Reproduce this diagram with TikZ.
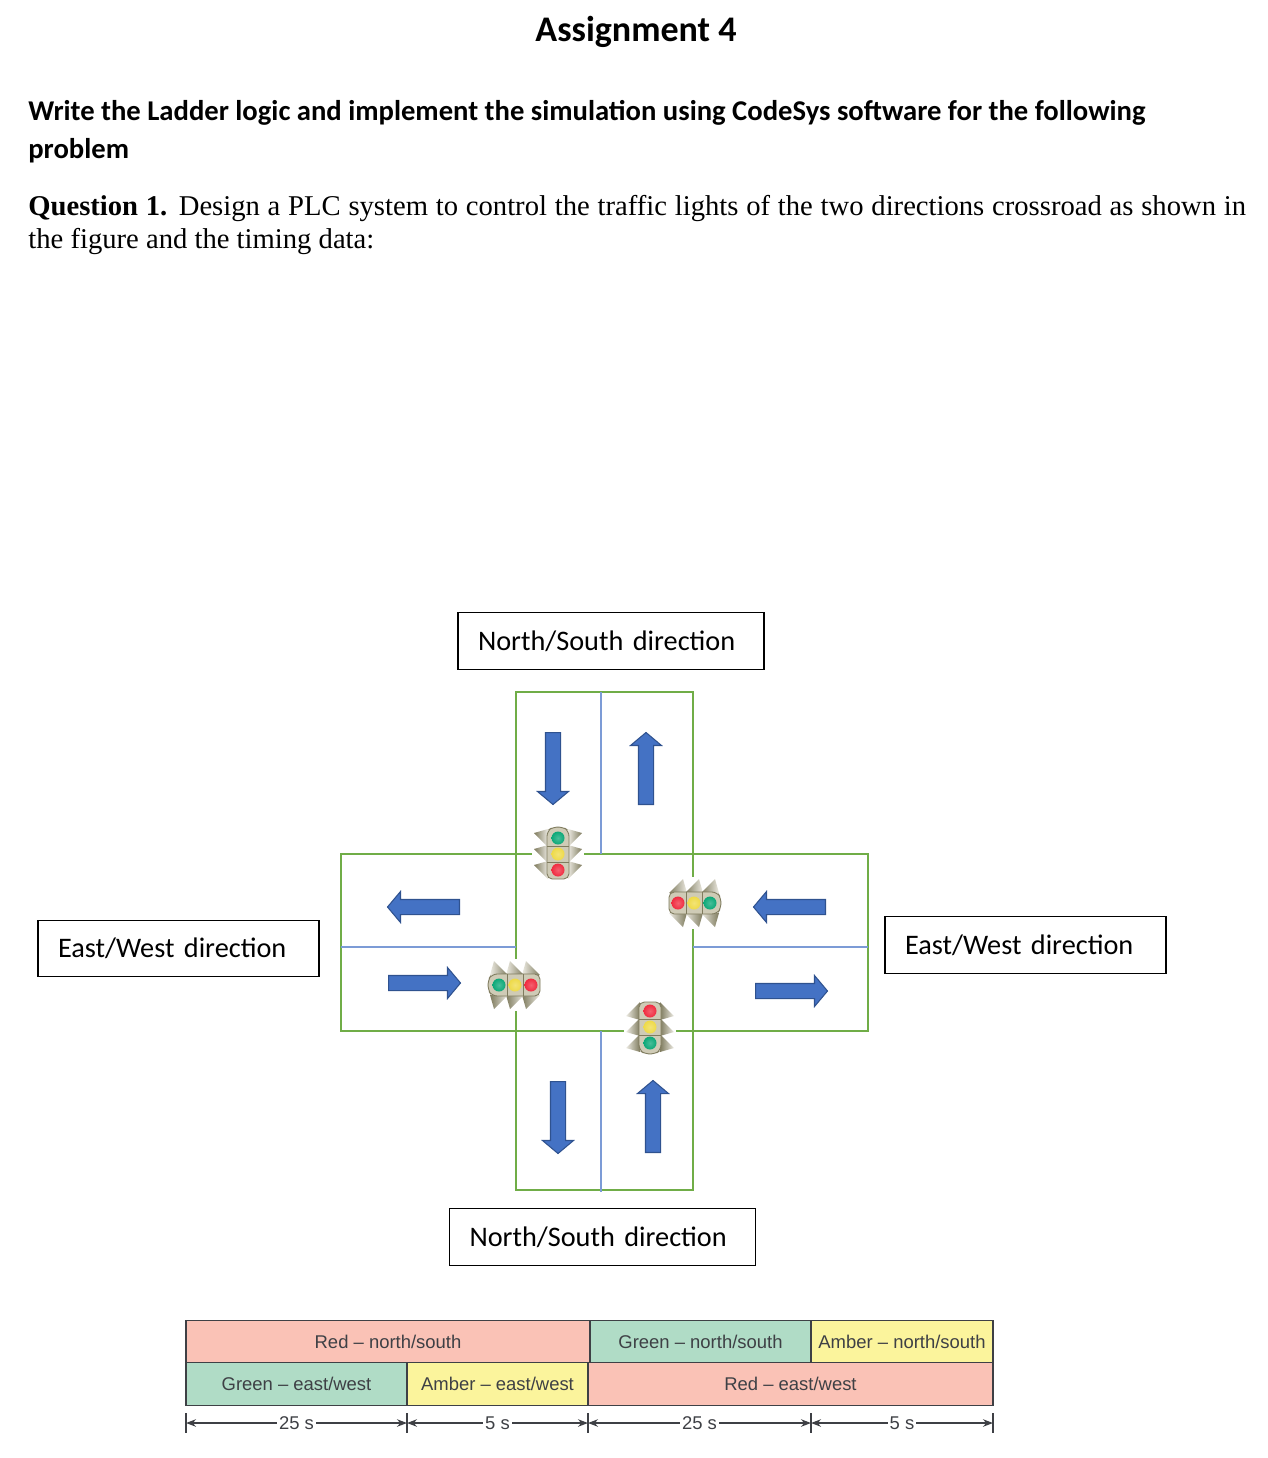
\documentclass[tikz,border=0pt]{standalone}
\usepackage{fontspec}
\setmainfont{Carlito}
\newfontfamily\timesfont{Liberation Serif}
\newfontfamily\chartfont[Ligatures=TeX]{Liberation Sans}
\usetikzlibrary{positioning,arrows.meta,shapes.arrows}
\definecolor{roadgreen}{HTML}{70AD47}
\definecolor{lanec}{HTML}{7C9BD6}
\definecolor{arrowfill}{HTML}{4472C4}
\definecolor{arrowedge}{HTML}{2F528F}
\definecolor{redcell}{HTML}{FAC2B6}
\definecolor{greencell}{HTML}{B0DCC6}
\definecolor{ambercell}{HTML}{FBF49C}
\definecolor{inkc}{HTML}{3E4045}
\definecolor{signalbody}{HTML}{CFCBB6}
\definecolor{signaledge}{HTML}{7F7B5E}
\definecolor{lampred}{HTML}{F02C40}
\definecolor{lampamber}{HTML}{EEDA48}
\definecolor{lampgreen}{HTML}{0CA878}

\begin{document}
\begin{tikzpicture}[x=0.02cm, y=-0.02cm,
        road/.style={draw=roadgreen, line width=1.35pt},
        lane/.style={draw=lanec, line width=0.6pt},
        dirbox/.style={draw=black, line width=0.8pt, font=\fontsize{16.1}{18}\selectfont, align=left, text width=4.82cm, inner xsep=0.4cm, minimum height=1.13cm, inner ysep=0pt},
        flow/.style={single arrow, anchor=tail, draw=arrowedge, fill=arrowfill, line width=0.6pt, minimum height=1.44cm, single arrow head extend=0.16cm, single arrow tip angle=100, inner sep=0.14cm},
        cell/.style={draw=inkc, line width=0.8pt, text=inkc, font=\chartfont\fontsize{10.5}{12}\selectfont, minimum height=0.85cm, inner sep=0pt},
        span/.style={{Stealth[length=2mm]}-{Stealth[length=2mm]}, draw=inkc, line width=0.7pt},
        tick/.style={draw=inkc, line width=0.7pt},
        spanlbl/.style={fill=white, inner sep=1pt, text=inkc, font=\chartfont\fontsize{10.5}{12}\selectfont},
        signal/.pic={
          \fill[white] (-26,-27) rectangle (26,27);
          \foreach \vy in {-26,-10,6} {
            \path[left color=signalbody!40, right color=signaledge] (-10,\vy) -- (-24,\vy+14) -- (-10,\vy+18) -- cycle;
            \path[right color=signalbody!40, left color=signaledge] (10,\vy) -- (24,\vy+14) -- (10,\vy+18) -- cycle;
          }
          \draw[signaledge, fill=signalbody, line width=0.5pt, rounded corners=3pt] (-11,-26) -- (11,-26) -- (11,22) -- (5,26) -- (-5,26) -- (-11,22) -- cycle;
          \draw[signaledge, line width=0.3pt] (-11,-9) -- (11,-9) (-11,7) -- (11,7);
          \shade[inner color=lampred!75!white, outer color=lampred] (0,-17) circle (6.5);
          \shade[inner color=lampamber!75!white, outer color=lampamber] (0,-1) circle (6.5);
          \shade[inner color=lampgreen!75!white, outer color=lampgreen] (0,15) circle (6.5);
        }]
      \useasboundingbox (0,0) rectangle (1268,1458);
      % heading
      \node[font=\bfseries\fontsize{20.5}{24}\selectfont] (title) at (636,32) {Assignment 4};
      \node[anchor=north west, inner sep=0pt, align=left, font=\bfseries\fontsize{16.3}{21.5}\selectfont] (task) at (28,100) {Write the Ladder logic and implement the simulation using CodeSys software for the following\\ problem};
      \node[anchor=north west, inner sep=0pt, text width=24.36cm, align=justify, font=\timesfont\fontsize{16.3}{18.8}\selectfont] (question) at (28,195) {\textbf{Question 1.} Design a PLC system to control the traffic lights of the two directions crossroad as shown in\linebreak the figure and the timing data:};
      % crossroad
      \draw[road] (516,692) rectangle (693,1190);
      \draw[road] (341,854) rectangle (868,1031);
      \coordinate (laneN) at (601,692);
      \coordinate (laneNend) at (601,854);
      \coordinate (laneS) at (601,1031);
      \coordinate (laneSend) at (601,1192);
      \coordinate (laneW) at (341,947);
      \coordinate (laneWend) at (516,947);
      \coordinate (laneE) at (693,947);
      \coordinate (laneEend) at (868,947);
      \draw[lane] (laneN) -- (laneNend);
      \draw[lane] (laneS) -- (laneSend);
      \draw[lane] (laneW) -- (laneWend);
      \draw[lane] (laneE) -- (laneEend);
      % direction boxes
      \node[dirbox, text width=5.32cm] (boxN) at (611,641) {North/South direction};
      \node[dirbox, text width=5.32cm] (boxS) at (602.5,1237) {North/South direction};
      \node[dirbox] (boxW) at (178.5,948.5) {East/West direction};
      \node[dirbox] (boxE) at (1025.5,945) {East/West direction};
      % traffic flow
      \node[flow, shape border rotate=270] (flowNd) at (553,732) {};
      \node[flow, shape border rotate=90] (flowNu) at (646,805) {};
      \node[flow, shape border rotate=180] (flowWl) at (460,907) {};
      \node[flow] (flowWr) at (388,983) {};
      \node[flow, shape border rotate=180] (flowEl) at (826,907) {};
      \node[flow] (flowEr) at (755,991) {};
      \node[flow, shape border rotate=270] (flowSd) at (558,1081) {};
      \node[flow, shape border rotate=90] (flowSu) at (653,1153) {};
      % signals
      \pic[rotate=180] (sigN) at (558,853) {signal};
      \pic[rotate=90] (sigE) at (695,903) {signal};
      \pic[rotate=-90] (sigW) at (514,985) {signal};
      \pic (sigS) at (650,1028) {signal};
      % timing chart
      \node[cell, fill=redcell, minimum width=8.08cm] (redNS) at (388,1341.5) {Red -- north/south};
      \node[cell, fill=greencell, minimum width=4.42cm] (greenNS) at (700.5,1341.5) {Green -- north/south};
      \node[cell, fill=ambercell, minimum width=3.64cm] (amberNS) at (902,1341.5) {Amber -- north/south};
      \node[cell, fill=greencell, minimum width=4.42cm] (greenEW) at (296.5,1384) {Green -- east/west};
      \node[cell, fill=ambercell, minimum width=3.62cm] (amberEW) at (497.5,1384) {Amber -- east/west};
      \node[cell, fill=redcell, minimum width=8.1cm] (redEW) at (790.5,1384) {Red -- east/west};
      \coordinate (t0) at (186,1423);
      \coordinate (t1) at (407,1423);
      \coordinate (t2) at (588,1423);
      \coordinate (t3) at (811,1423);
      \coordinate (t4) at (993,1423);
      \foreach \tk in {t0,t1,t2,t3,t4} {
        \draw[tick] ([yshift=0.2cm]\tk) -- ([yshift=-0.2cm]\tk);
      }
      \draw[span] (t0) -- node[spanlbl] (lbl0) {25 s} (t1);
      \draw[span] (t1) -- node[spanlbl] (lbl1) {5 s} (t2);
      \draw[span] (t2) -- node[spanlbl] (lbl2) {25 s} (t3);
      \draw[span] (t3) -- node[spanlbl] (lbl3) {5 s} (t4);
    \end{tikzpicture}
\end{document}
